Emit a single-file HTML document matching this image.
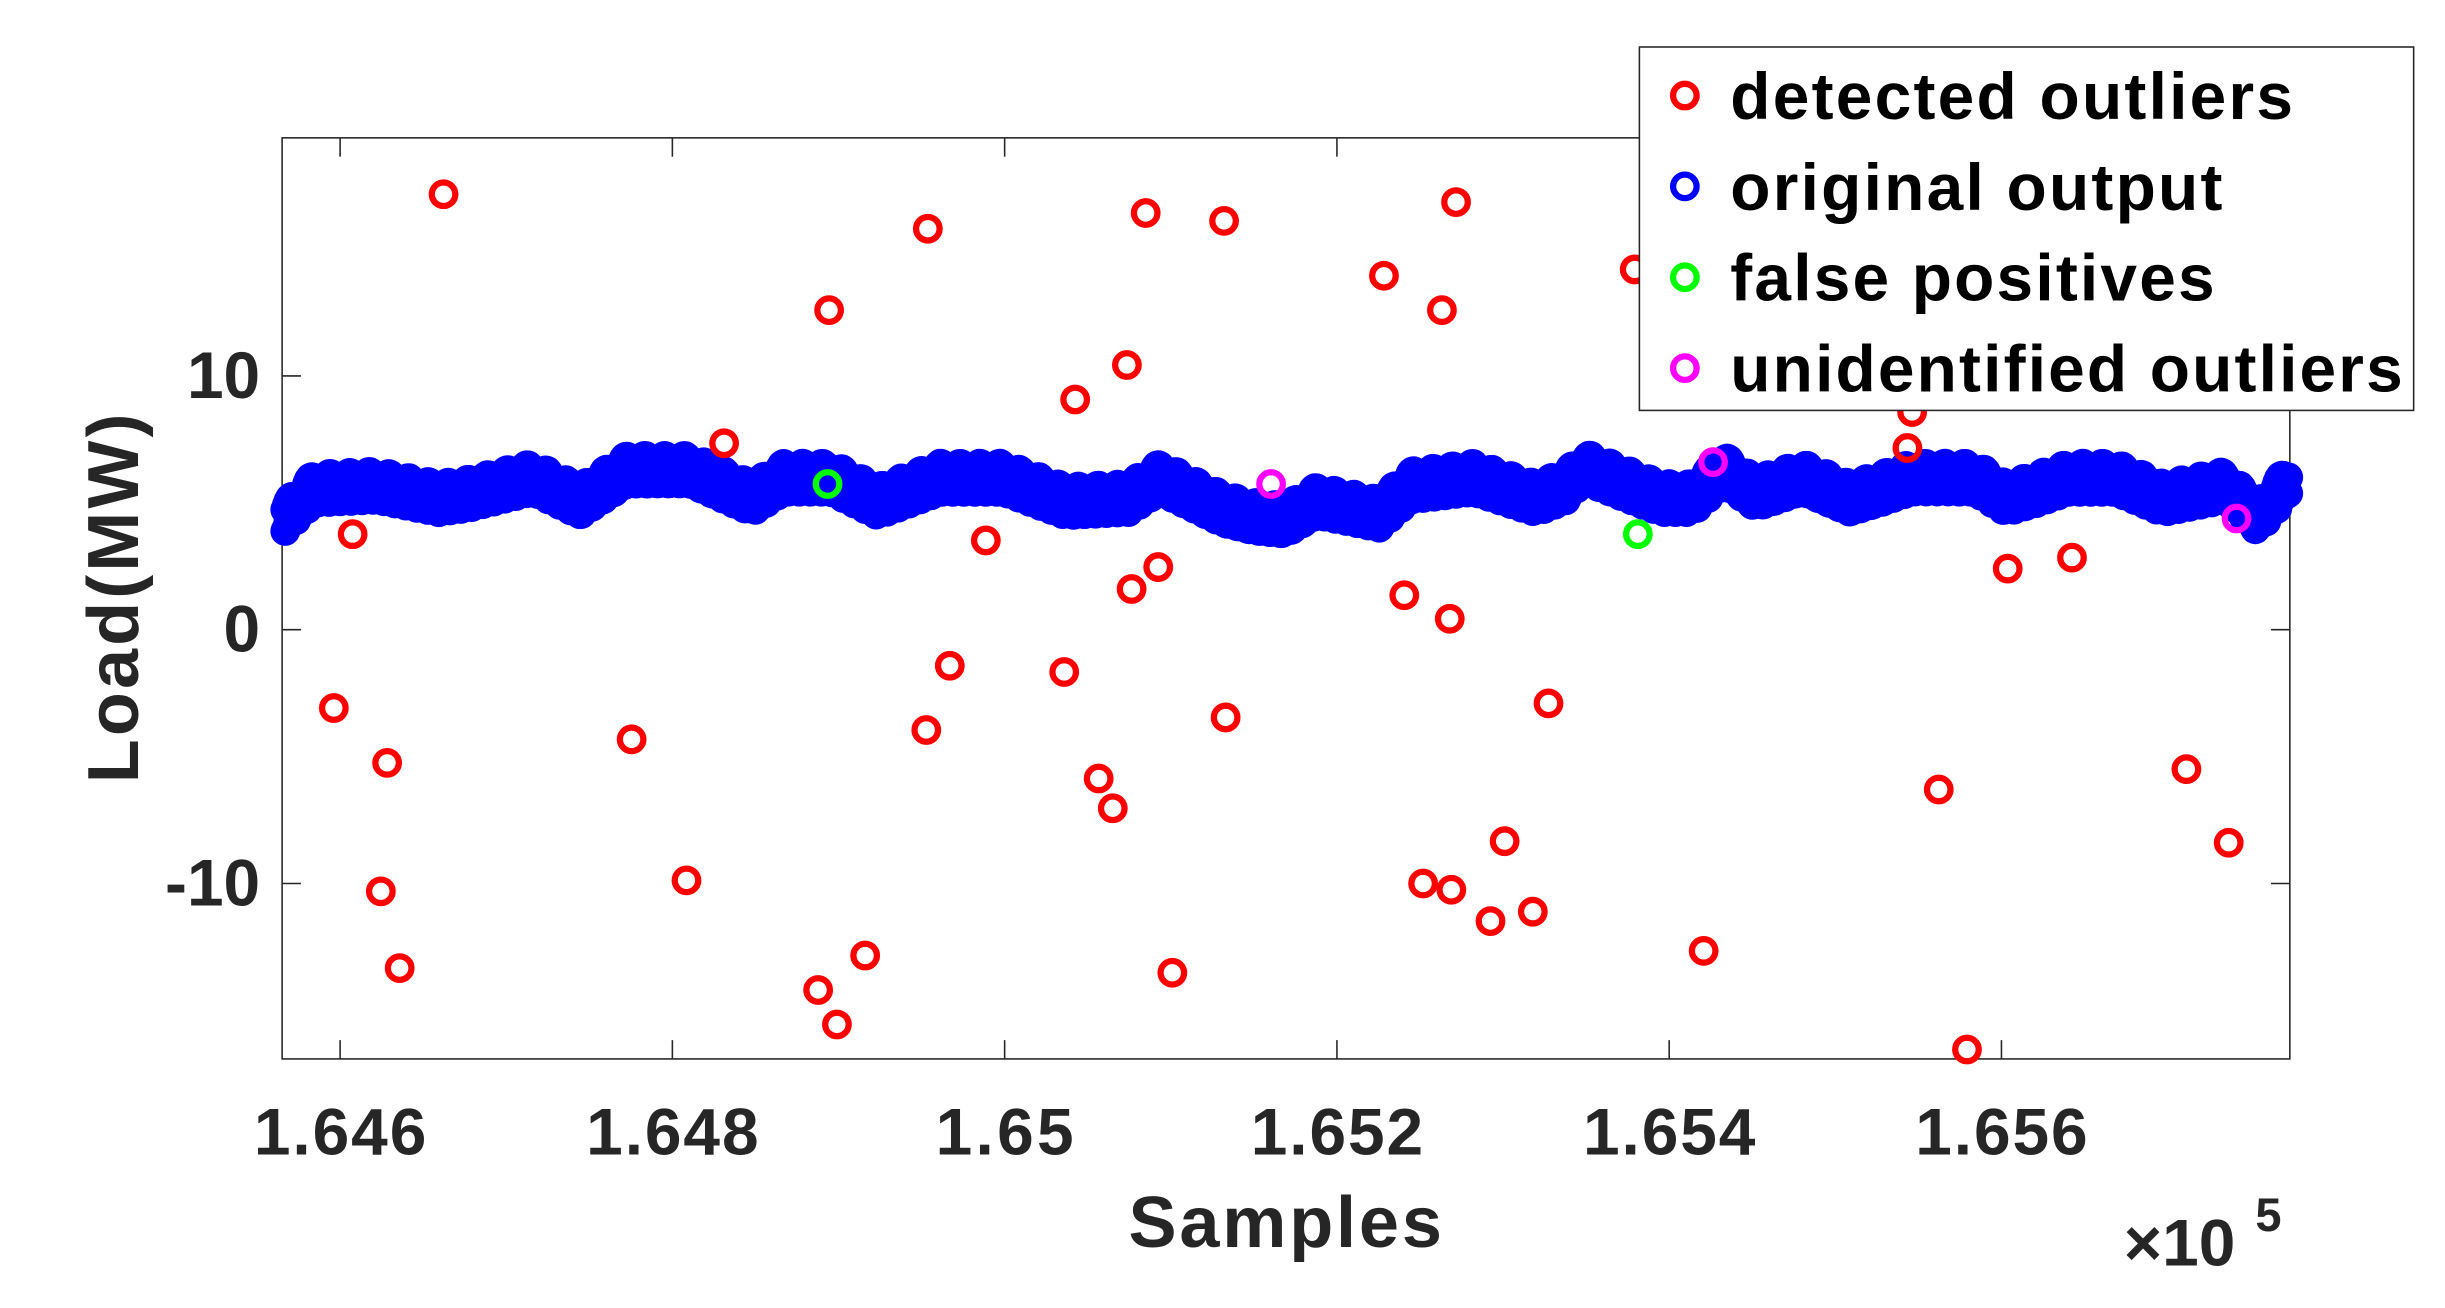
<!DOCTYPE html>
<html><head><meta charset="utf-8"><style>html,body{margin:0;padding:0;background:#fff}svg{display:block}text{font-family:"Liberation Sans",sans-serif;font-weight:bold;fill:#262626}</style></head>
<body>
<svg id="s" width="2445" height="1308" viewBox="0 0 1560 835" preserveAspectRatio="none" xmlns="http://www.w3.org/2000/svg">
<rect x="0" y="0" width="1560" height="835" fill="#fff"/>
<rect x="180" y="88" width="1281" height="588" fill="#fff" stroke="#262626" stroke-width="1"/>
<g stroke="#262626" stroke-width="1">
<line x1="217" y1="676" x2="217" y2="664"/><line x1="429" y1="676" x2="429" y2="664"/><line x1="641" y1="676" x2="641" y2="664"/><line x1="853" y1="676" x2="853" y2="664"/><line x1="1065" y1="676" x2="1065" y2="664"/><line x1="1277" y1="676" x2="1277" y2="664"/>
<line x1="217" y1="88" x2="217" y2="100"/><line x1="429" y1="88" x2="429" y2="100"/><line x1="641" y1="88" x2="641" y2="100"/><line x1="853" y1="88" x2="853" y2="100"/><line x1="1065" y1="88" x2="1065" y2="100"/><line x1="1277" y1="88" x2="1277" y2="100"/>
<line x1="180" y1="240" x2="192" y2="240"/><line x1="180" y1="402" x2="192" y2="402"/><line x1="180" y1="564" x2="192" y2="564"/>
<line x1="1461" y1="240" x2="1449" y2="240"/><line x1="1461" y1="402" x2="1449" y2="402"/><line x1="1461" y1="564" x2="1449" y2="564"/>
</g>
<g id="band"></g>
<g id="pts" fill="none" stroke-width="4"></g>
<g font-size="42" text-anchor="middle">
<text x="217" y="737" textLength="110">1.646</text><text x="429" y="737" textLength="110">1.648</text><text x="641" y="737" textLength="88">1.65</text><text x="853" y="737" textLength="110">1.652</text><text x="1065" y="737" textLength="110">1.654</text><text x="1277" y="737" textLength="110">1.656</text>
</g>
<g font-size="42" text-anchor="end">
<text x="166" y="254">10</text><text x="166" y="416">0</text><text x="166" y="578">-10</text>
</g>
<text x="820" y="796" font-size="46" text-anchor="middle" textLength="200">Samples</text>
<text transform="translate(88,382) rotate(-90)" font-size="46" text-anchor="middle" textLength="236">Load(MW)</text>
<text x="1355" y="808" font-size="42">×10</text><text x="1439" y="786" font-size="30">5</text>
<rect x="1046" y="30" width="494" height="232" fill="#fff" stroke="#262626" stroke-width="1"/>
<g fill="none" stroke-width="4">
<circle cx="1075" cy="61" r="7.5" stroke="#f00"/><circle cx="1075" cy="119" r="7.5" stroke="#00f"/><circle cx="1075" cy="177" r="7.5" stroke="#0f0"/><circle cx="1075" cy="235" r="7.5" stroke="#f0f"/>
</g>
<g font-size="42">
<text x="1104" y="76" style="fill:#000" textLength="359">detected outliers</text><text x="1104" y="134" style="fill:#000" textLength="314">original output</text><text x="1104" y="192" style="fill:#000" textLength="309">false positives</text><text x="1104" y="250" style="fill:#000" textLength="429">unidentified outliers</text>
</g>
</svg>
<script>
var w=[[182,330],[200,312],[240,310],[280,318],[300,315],[340,305],[370,320],[400,300],[440,300],[480,318],[500,305],[530,305],[560,320],[600,305],[640,305],[680,320],[720,318],[740,305],[780,325],[800,330],[820,332],[840,320],[880,328],[900,310],[940,305],[980,318],[1000,310],[1010,298],[1040,310],[1060,318],[1080,318],[1100,300],[1120,315],[1150,305],[1180,318],[1200,312],[1220,305],[1260,305],[1280,318],[1300,312],[1320,305],[1350,305],[1380,318],[1420,310],[1440,330],[1450,320],[1460,306]];
var s="";
function cy(x){for(var i=0;i<w.length-1;i++){if(x<=w[i+1][0]){var t=(x-w[i][0])/(w[i+1][0]-w[i][0]);return w[i][1]+t*(w[i+1][1]-w[i][1]);}}return w[w.length-1][1];}
for(var x=182;x<=1460;x+=1){var b=cy(x);var y1=b-5+4*Math.sin(x*0.5),y2=b+5+4*Math.sin(x*0.9+1);s+='<circle cx="'+x+'" cy="'+y1.toFixed(1)+'" r="9.5" fill="#00f"/><circle cx="'+x+'" cy="'+y2.toFixed(1)+'" r="9.5" fill="#00f"/>';}
document.getElementById('band').innerHTML=s;
var red=[[283,124],[592,146],[731,136],[781,141],[929,129],[883,176],[920,198],[529,198],[1043,172],[719,233],[686,255],[462,283],[1220,263],[1217,286],[225,341],[629,345],[739,362],[722,376],[896,380],[925,395],[1281,363],[1322,356],[606,425],[679,429],[213,452],[782,458],[988,449],[403,472],[591,466],[247,487],[701,497],[710,516],[1237,504],[1395,491],[1422,538],[960,537],[243,569],[438,562],[908,564],[926,568],[951,588],[978,582],[255,618],[552,610],[522,632],[534,654],[748,621],[1087,607],[1255,670]];
var g=[[528,309],[1045,341]],m=[[811,309],[1093,295],[1427,331]];
var p="";
red.forEach(function(a){p+='<circle cx="'+a[0]+'" cy="'+a[1]+'" r="7.5" stroke="#f00"/>';});
g.forEach(function(a){p+='<circle cx="'+a[0]+'" cy="'+a[1]+'" r="7.5" stroke="#0f0"/>';});
m.forEach(function(a){p+='<circle cx="'+a[0]+'" cy="'+a[1]+'" r="7.5" stroke="#f0f"/>';});
document.getElementById('pts').innerHTML=p;
</script>
</body></html>
